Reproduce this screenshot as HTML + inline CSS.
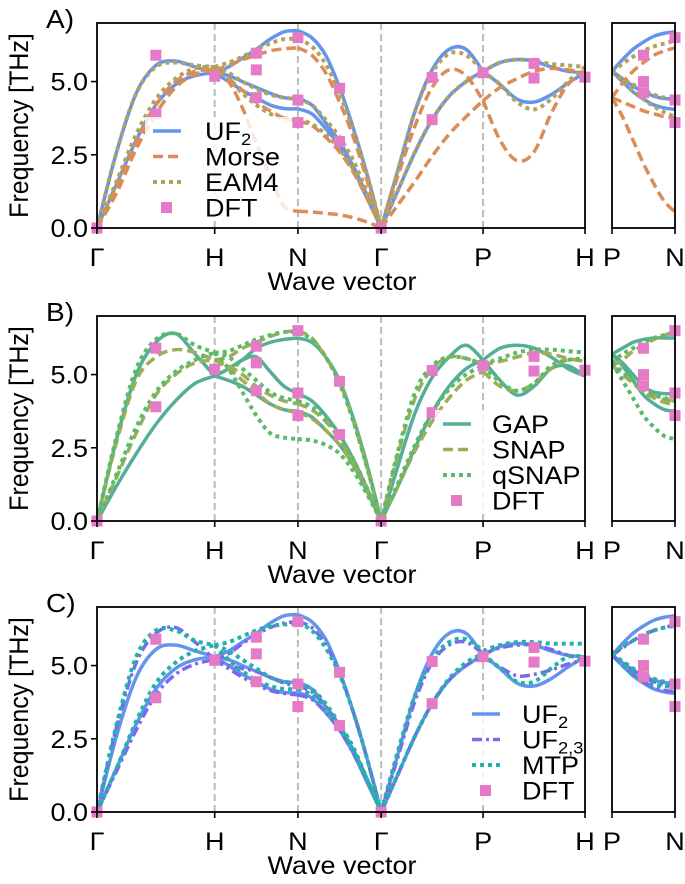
<!DOCTYPE html>
<html><head><meta charset="utf-8">
<style>
html,body{margin:0;padding:0;background:#fff;}
svg{display:block;font-family:"Liberation Sans","DejaVu Sans",sans-serif;}
</style></head>
<body>
<svg id="fig" width="685" height="884" viewBox="0 0 685 884" xmlns="http://www.w3.org/2000/svg"></svg>
<script>
// ---- data ----
const kLabels = ["Γ","H","N","Γ","P","H"];
const kDist = [0,1,1.707,2.414,3.28,4.146];
const yTicks = [0.0,2.5,5.0];
const yTickLabels = ["0.0","2.5","5.0"];
// bands per segment: [Γ-H, H-N, N-Γ, Γ-P, P-H, P-N]; 7 samples per branch
const uf2 = [
 [[0,2.6,4.6,5.55,5.7,5.5,5.3],[0,1.5,3.0,4.2,4.9,5.2,5.3]],
 [[5.3,5.5,5.8,6.1,6.45,6.7,6.74],[5.3,5.2,5.0,4.8,4.6,4.45,4.43],[5.3,5.0,4.7,4.45,4.2,4.08,4.07]],
 [[6.74,6.5,5.9,4.8,3.4,1.8,0],[4.43,4.2,3.6,2.95,2.1,1.1,0],[4.07,3.9,3.4,2.8,2.0,1.0,0]],
 [[0,2.0,4.0,5.4,6.1,6.1,5.35],[0,1.3,2.6,3.7,4.5,5.0,5.35]],
 [[5.35,5.65,5.75,5.7,5.5,5.35,5.3],[5.35,4.9,4.4,4.3,4.55,4.95,5.3]],
 [[5.35,5.75,6.1,6.35,6.55,6.65,6.7],[5.35,5.1,4.85,4.65,4.5,4.42,4.4],[5.35,5.0,4.65,4.4,4.2,4.1,4.05]]
];
const morse = [
 [[0,1.2,2.7,3.9,4.8,5.25,5.4],[0,1.4,2.9,4.2,5.0,5.35,5.4]],
 [[5.4,5.55,5.75,5.9,6.05,6.12,6.15],[5.4,5.0,4.1,2.9,1.76,0.75,0.57],[5.4,5.1,4.7,4.3,4.0,3.75,3.65]],
 [[6.15,5.9,5.3,4.3,3.1,1.6,0],[3.65,3.5,3.1,2.6,1.9,1.0,0],[0.57,0.55,0.5,0.45,0.35,0.2,0]],
 [[0,1.8,3.5,4.8,5.4,5.2,4.35],[0,0.8,1.6,2.45,3.2,3.8,4.35]],
 [[4.35,3.0,2.3,2.6,3.9,4.9,5.3],[4.35,4.8,5.1,5.35,5.45,5.4,5.3]],
 [[4.45,4.95,5.35,5.65,5.9,6.05,6.15],[4.45,4.3,4.15,4.0,3.9,3.8,3.75],[4.45,3.8,3.0,2.2,1.5,0.9,0.55]]
];
const eam4 = [
 [[0,2.6,4.6,5.5,5.65,5.55,5.5],[0,1.6,3.2,4.4,5.1,5.45,5.5]],
 [[5.5,5.65,5.85,6.1,6.3,6.45,6.45],[5.5,5.3,5.0,4.75,4.55,4.45,4.4],[5.5,5.1,4.6,4.2,3.9,3.75,3.7]],
 [[6.45,6.2,5.6,4.6,3.3,1.8,0],[4.4,4.2,3.7,3.1,2.3,1.2,0],[3.7,3.55,3.2,2.7,2.0,1.1,0]],
 [[0,2.0,4.0,5.3,5.95,5.9,5.35],[0,1.3,2.6,3.7,4.5,5.0,5.35]],
 [[5.35,5.65,5.75,5.7,5.6,5.55,5.5],[5.35,4.9,4.3,4.05,4.4,5.0,5.5]],
 [[5.35,5.6,5.85,6.05,6.2,6.3,6.4],[5.35,5.1,4.9,4.7,4.55,4.45,4.4],[5.35,5.0,4.7,4.4,4.15,3.95,3.8]]
];
const gap = [
 [[0,2.8,5.0,6.1,6.4,5.7,4.95],[0,1.2,2.3,3.3,4.1,4.7,4.95]],
 [[4.95,5.2,5.5,5.9,6.1,6.2,6.25],[4.95,5.2,5.5,5.6,5.1,4.6,4.35],[4.95,4.8,4.6,4.3,4.0,3.8,3.75]],
 [[6.25,6.1,5.6,4.8,3.5,1.9,0],[4.35,4.1,3.6,2.95,2.1,1.1,0],[3.75,3.55,3.1,2.6,1.9,1.0,0]],
 [[0,1.9,3.7,4.9,5.6,6.0,5.5],[0,1.2,2.5,3.7,4.6,5.2,5.5]],
 [[5.5,5.9,6.0,5.9,5.6,5.2,4.95],[5.5,4.8,4.3,4.6,5.2,5.3,4.95]],
 [[5.7,5.9,6.1,6.2,6.25,6.25,6.25],[5.7,5.4,5.0,4.6,4.4,4.35,4.35],[5.7,5.3,4.8,4.3,4.0,3.8,3.75]]
];
const snap = [
 [[0,2.7,4.8,5.6,5.85,5.75,5.5],[0,1.5,3.0,4.3,5.0,5.4,5.5]],
 [[5.5,5.6,5.9,6.1,6.3,6.45,6.5],[5.5,5.3,5.0,4.6,4.3,4.1,4.0],[5.5,5.2,4.8,4.4,4.0,3.8,3.7]],
 [[6.5,6.25,5.6,4.75,3.4,1.8,0],[4.0,3.8,3.4,2.8,2.0,1.1,0],[3.7,3.5,3.1,2.6,1.9,1.0,0]],
 [[0,2.3,4.2,5.2,5.6,5.55,5.35],[0,1.2,2.4,3.4,4.2,4.8,5.1]],
 [[5.35,5.45,5.6,5.75,5.7,5.55,5.45],[5.1,4.6,4.45,4.7,5.2,5.5,5.45]],
 [[5.3,5.5,5.8,6.0,6.2,6.35,6.45],[5.3,5.0,4.7,4.4,4.2,4.05,3.95],[5.3,5.05,4.75,4.5,4.3,4.15,4.1]]
];
const qsnap = [
 [[0,2.9,5.2,6.2,6.4,6.0,5.75],[0,1.6,3.2,4.4,5.1,5.5,5.75]],
 [[5.75,5.8,6.0,6.2,6.35,6.45,6.45],[5.75,5.6,5.2,4.8,4.4,4.2,4.1],[5.75,5.2,4.4,3.6,3.0,2.85,2.8]],
 [[6.45,6.2,5.6,4.7,3.4,1.8,0],[4.1,3.9,3.5,2.9,2.1,1.1,0],[2.8,2.75,2.6,2.3,1.7,0.9,0]],
 [[0,2.4,4.4,5.3,5.6,5.55,5.35],[0,1.3,2.6,3.7,4.5,5.0,5.3]],
 [[5.35,5.55,5.75,5.85,5.85,5.8,5.75],[5.3,4.75,4.45,4.7,5.3,5.5,5.55]],
 [[5.4,5.7,5.9,6.1,6.25,6.35,6.45],[5.4,5.1,4.8,4.5,4.3,4.2,4.1],[5.4,4.8,4.2,3.6,3.2,2.9,2.8]]
];
const uf23 = [
 [[0,2.9,5.1,6.1,6.3,5.8,5.2],[0,1.4,2.8,4.0,4.7,5.05,5.2]],
 [[5.2,5.4,5.75,6.05,6.3,6.45,6.5],[5.2,5.0,4.9,4.8,4.6,4.4,4.3],[5.2,4.9,4.6,4.35,4.15,4.05,4.0]],
 [[6.5,6.3,5.7,4.75,3.4,1.8,0],[4.3,4.1,3.6,2.95,2.1,1.1,0],[4.0,3.85,3.4,2.8,2.0,1.05,0]],
 [[0,1.9,3.8,5.1,5.7,5.8,5.4],[0,1.3,2.6,3.7,4.5,5.0,5.3]],
 [[5.4,5.6,5.7,5.7,5.55,5.35,5.2],[5.3,4.95,4.65,4.7,4.85,5.05,5.2]],
 [[5.35,5.6,5.85,6.05,6.2,6.3,6.4],[5.35,5.1,4.85,4.6,4.45,4.35,4.3],[5.35,5.0,4.7,4.45,4.25,4.15,4.1]]
];
const mtp = [
 [[0,3.0,5.3,6.2,6.2,5.85,5.7],[0,1.5,3.1,4.4,5.1,5.5,5.7]],
 [[5.7,5.8,6.0,6.2,6.35,6.4,6.45],[5.7,5.5,5.2,4.9,4.6,4.45,4.4],[5.7,5.2,4.8,4.5,4.3,4.2,4.2]],
 [[6.45,6.2,5.6,4.7,3.4,1.8,0],[4.4,4.2,3.7,3.0,2.2,1.1,0],[4.2,4.0,3.5,2.9,2.1,1.1,0]],
 [[0,2.1,4.0,5.2,5.8,5.9,5.5],[0,1.3,2.6,3.7,4.55,5.1,5.4]],
 [[5.5,5.7,5.8,5.8,5.75,5.75,5.75],[5.4,4.9,4.45,4.45,4.9,5.3,5.3]],
 [[5.4,5.65,5.85,6.05,6.2,6.3,6.35],[5.4,5.15,4.9,4.7,4.55,4.45,4.4],[5.4,5.0,4.7,4.5,4.35,4.3,4.25]]
];
// DFT: [segment index, fraction t, frequency]
const dftSeg = [0,0,0,0,1,1,1,1,1,1,2,2,2,3,3,3,4,4,4,5,5,5,5,5,5];
const dftT   = [0,0.5,0.5,1,0.5,0.5,0.5,1,1,1,0.5,0.5,1,0.5,0.5,1,0.5,0.5,1,0.5,0.5,0.5,1,1,1];
const dftF   = [0,5.9,3.9,5.18,5.97,5.4,4.45,6.5,4.37,3.6,4.77,2.95,0,5.14,3.7,5.3,5.62,5.12,5.15,5.9,5.0,4.62,6.5,4.37,3.6];

const panels = [
 {label:"A)", top:23, series:[{d:uf2,name:"UF",sub:"2",c:"#6495ed",dash:"",w:3.5},{d:morse,name:"Morse",c:"#dc8c57",dash:"10,5",w:3.5},{d:eam4,name:"EAM4",c:"#b3a25c",dash:"4,4",w:4}], leg:{x:153,tx:205,y:131}},
 {label:"B)", top:316, series:[{d:gap,name:"GAP",c:"#55ae98",dash:"",w:3.5},{d:snap,name:"SNAP",c:"#9cae58",dash:"10,5",w:3.5},{d:qsnap,name:"qSNAP",c:"#5cbb6a",dash:"4,4",w:4}], leg:{x:443,tx:492,y:424}},
 {label:"C)", top:607, series:[{d:uf2,name:"UF",sub:"2",c:"#6495ed",dash:"",w:3.5},{d:uf23,name:"UF",sub:"2,3",c:"#7b68ee",dash:"10,4,3,4",w:3.5},{d:mtp,name:"MTP",c:"#22b3a8",dash:"4,4",w:4}], leg:{x:472,tx:522,y:714}}
];
// ---- drawing ----
const NS="http://www.w3.org/2000/svg";
const svg=document.getElementById('fig');
const FS=25, SXT=1.08;
function mk(tag,attrs,parent){const e=document.createElementNS(NS,tag);for(const k in attrs)e.setAttribute(k,attrs[k]);(parent||svg).appendChild(e);return e;}
function txt(parent,x,y,str,anchor,size){
  const t=mk('text',{x:0,y:0,"text-anchor":anchor||"start","font-size":size||FS,fill:"#000",transform:"translate("+x+","+y+") scale("+SXT+",1)"},parent);
  t.textContent=str;return t;
}
const X0=97,X1=585,SX0=612,SX1=675,H=205,FMAX=7.0;
function xMain(d){return X0+(d/kDist[5])*(X1-X0);}
function xSmall(d){return SX0+(d/0.5)*(SX1-SX0);}
function segX(seg,t){ if(seg===5) return xSmall(0.5*t); return xMain(kDist[seg]+t*(kDist[seg+1]-kDist[seg])); }
function smoothPath(pts){
  let s="M"+pts[0][0].toFixed(2)+","+pts[0][1].toFixed(2);
  for(let i=0;i<pts.length-1;i++){
    const p0=pts[Math.max(0,i-1)],p1=pts[i],p2=pts[i+1],p3=pts[Math.min(pts.length-1,i+2)];
    const c1=[p1[0]+(p2[0]-p0[0])/6,p1[1]+(p2[1]-p0[1])/6];
    const c2=[p2[0]-(p3[0]-p1[0])/6,p2[1]-(p3[1]-p1[1])/6];
    s+=" C"+c1[0].toFixed(2)+","+c1[1].toFixed(2)+" "+c2[0].toFixed(2)+","+c2[1].toFixed(2)+" "+p2[0].toFixed(2)+","+p2[1].toFixed(2);
  }
  return s;
}
panels.forEach((P,pi)=>{
  const top=P.top,bot=top+H;
  const yS=f=>bot-(f/FMAX)*H;
  const g=mk('g',{});
  
  
  const clipId='clip'+pi, clipS='clips'+pi;
  const cp=mk('clipPath',{id:clipId},g);mk('rect',{x:X0,y:top,width:X1-X0,height:H},cp);
  const cs=mk('clipPath',{id:clipS},g);mk('rect',{x:SX0,y:top,width:SX1-SX0,height:H},cs);
  [1,2,3,4].forEach(i=>{const l=mk('line',{x1:xMain(kDist[i]),x2:xMain(kDist[i]),y1:top,y2:bot,stroke:"#bdbdbd","stroke-width":2,"stroke-dasharray":"7,4"},g);
    });
  P.series.forEach((S,si)=>{
    const sg=mk('g',{},g);
    
    
    S.d.forEach((branches,seg)=>{
      branches.forEach(br=>{
        const pts=br.map((f,k)=>[segX(seg,k/(br.length-1)),yS(f)]);
        const p=mk('path',{d:smoothPath(pts),fill:"none",stroke:S.c,"stroke-width":S.w,"clip-path":"url(#"+(seg===5?clipS:clipId)+")"},sg);
        if(S.dash)p.setAttribute('stroke-dasharray',S.dash);
        
        
      });
    });
  });
  dftF.forEach((f,i)=>{
    const x=segX(dftSeg[i],dftT[i]),y=yS(f);
    const r=mk('rect',{x:x-5.5,y:y-5.5,width:11,height:11,fill:"#e57ac6"},g);
    
    
  });
  const fr=mk('rect',{x:X0,y:top,width:X1-X0,height:H,fill:"none",stroke:"#000","stroke-width":1.8},g);
  
  const fr2=mk('rect',{x:SX0,y:top,width:SX1-SX0,height:H,fill:"none",stroke:"#000","stroke-width":1.8},g);
  
  yTicks.forEach((v,i)=>{
    mk('line',{x1:X0-6,x2:X0,y1:yS(v),y2:yS(v),stroke:"#000","stroke-width":1.6},g);
    const t=txt(g,X0-9,yS(v)+9,yTickLabels[i],"end");
    
  });
  kLabels.forEach((lb,i)=>{
    const x=xMain(kDist[i]);
    mk('line',{x1:x,x2:x,y1:bot,y2:bot+6,stroke:"#000","stroke-width":1.6},g);
    const t=txt(g,x,bot+38,lb,"middle");
    
  });
  [["P",0],["N",0.5]].forEach(([lb,d])=>{
    const x=xSmall(d);
    mk('line',{x1:x,x2:x,y1:bot,y2:bot+6,stroke:"#000","stroke-width":1.6},g);
    const t=txt(g,x,bot+38,lb,"middle");
    
  });
  const xl=txt(g,342,bot+62,"Wave vector","middle");
  
  const yl=mk('text',{x:0,y:0,"text-anchor":"middle","font-size":FS,fill:"#000",transform:"translate(28,"+(top+H/2)+") rotate(-90) scale(1,"+SXT+")"},g);yl.textContent="Frequency [THz]";
  
  const pl=txt(g,46,top+5,P.label,"start",26);
  
  const L=P.leg;
  const lg=mk('g',{},g);
  
  const lw={"A)":95,"B)":95,"C)":70}[P.label];
  mk('rect',{x:L.x-8,y:L.y-14,width:lw+(L.tx-L.x),height:102,fill:"rgba(255,255,255,0.8)"},lg);
  P.series.forEach((S,si)=>{
    const y=L.y+si*25.5;
    const ln=mk('line',{x1:L.x,x2:L.x+28,y1:y,y2:y,stroke:S.c,"stroke-width":S.w},lg);
    if(S.dash)ln.setAttribute('stroke-dasharray',S.dash);
    const t=mk('text',{x:0,y:0,"font-size":FS,fill:"#000",transform:"translate("+L.tx+","+(y+9)+") scale("+SXT+",1)"},lg);
    
    t.appendChild(document.createTextNode(S.name));
    if(S.sub){const ts=mk('tspan',{"font-size":17,dy:5},t);ts.textContent=S.sub;}
  });
  const y4=L.y+3*25.5;
  mk('rect',{x:L.x+8,y:y4-5.5,width:11,height:11,fill:"#e57ac6"},lg);
  const td=txt(lg,L.tx,y4+9,"DFT","start");
  
});
</script>
</body></html>
